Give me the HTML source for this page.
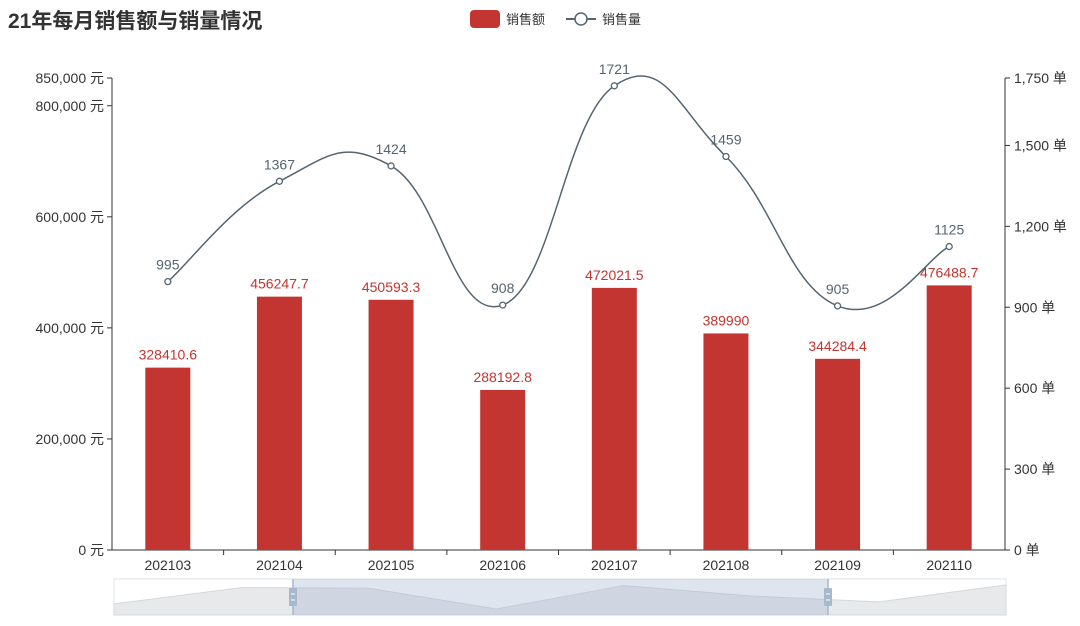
<!DOCTYPE html>
<html><head><meta charset="utf-8"><style>
body{margin:0;background:#fff;width:1080px;height:621px;overflow:hidden;font-family:"Liberation Sans","Noto Sans CJK SC",sans-serif}
</style></head><body>
<svg id="c" width="1080" height="621" xmlns="http://www.w3.org/2000/svg">
<text x="8" y="28" font-size="21" font-weight="bold" fill="#333" font-family="Liberation Sans,Noto Sans CJK SC,sans-serif">21年每月销售额与销量情况</text>
<g><rect x="470" y="10" width="30" height="18" rx="4" fill="#c23531"/><text x="506" y="24" font-size="13" fill="#333" font-family="Noto Sans CJK SC,sans-serif">销售额</text></g>
<g><line x1="566" y1="19" x2="596" y2="19" stroke="#546570" stroke-width="2"/><circle cx="581" cy="19" r="6" fill="#fff" stroke="#546570" stroke-width="1.5"/><text x="602" y="24" font-size="13" fill="#333" font-family="Noto Sans CJK SC,sans-serif">销售量</text></g>
<g id="axes"></g><g id="bars"></g><g id="line"></g><g id="dz"></g>
</svg>
<script>
const categories=["202103","202104","202105","202106","202107","202108","202109","202110"];
const salesAmount=[328410.6,456247.7,450593.3,288192.8,472021.5,389990,344284.4,476488.7];
const salesVolume=[995,1367,1424,908,1721,1459,905,1125];
const leftTicks=[0,200000,400000,600000,800000,850000];
const rightTicks=[0,300,600,900,1200,1500,1750];
const NS="http://www.w3.org/2000/svg";
const L=112,R=1005,B=550,T=78;
const yL=v=>B-(v/850000)*(B-T);
const yR=v=>B-(v/1750)*(B-T);
const bw=(R-L)/categories.length;
const xC=i=>L+bw*(i+0.5);
function mk(p,tag,a){const e=document.createElementNS(NS,tag);for(const k in a)e.setAttribute(k,a[k]);p.appendChild(e);return e;}
const ax=document.getElementById('axes');
let e=mk(ax,'line',{x1:L,y1:T,x2:L,y2:B,stroke:'#333'});


e=mk(ax,'line',{x1:R,y1:T,x2:R,y2:B,stroke:'#333'});


e=mk(ax,'line',{x1:L,y1:B,x2:R,y2:B,stroke:'#333'});


leftTicks.forEach(v=>{const y=yL(v);mk(ax,'line',{x1:L-5,y1:y,x2:L,y2:y,stroke:'#333'});
const t=mk(ax,'text',{x:L-8,y:y+5,'text-anchor':'end','font-size':14,fill:'#333'});t.textContent=v.toLocaleString('en-US')+' 元';

});
rightTicks.forEach(v=>{const y=yR(v);mk(ax,'line',{x1:R,y1:y,x2:R+5,y2:y,stroke:'#333'});
const t=mk(ax,'text',{x:R+9,y:y+5,'font-size':14,fill:'#333'});t.textContent=v.toLocaleString('en-US')+' 单';

});
categories.forEach((c,i)=>{const x=L+bw*i;if(i>0)mk(ax,'line',{x1:x,y1:B,x2:x,y2:B+5,stroke:'#333'});
const t=mk(ax,'text',{x:xC(i),y:B+20,'text-anchor':'middle','font-size':14,fill:'#333'});t.textContent=c;

});
const bg=document.getElementById('bars');
salesAmount.forEach((v,i)=>{const r=mk(bg,'rect',{x:xC(i)-22.5,y:yL(v),width:45,height:B-yL(v),fill:'#c23531'});


const t=mk(bg,'text',{x:xC(i),y:yL(v)-8,'text-anchor':'middle','font-size':14,fill:'#c23531'});t.textContent=v;

});
const lg=document.getElementById('line');
const pts=salesVolume.map((v,i)=>[xC(i),yR(v)]);
let d='M'+pts[0];
for(let i=0;i<pts.length-1;i++){const p0=pts[Math.max(0,i-1)],p1=pts[i],p2=pts[i+1],p3=pts[Math.min(pts.length-1,i+2)];const k=0.22;
const c1=[p1[0]+(p2[0]-p0[0])*k,p1[1]+(p2[1]-p0[1])*k],c2=[p2[0]-(p3[0]-p1[0])*k,p2[1]-(p3[1]-p1[1])*k];
d+=' C'+c1+' '+c2+' '+p2;}
e=mk(lg,'path',{d:d,fill:'none',stroke:'#546570','stroke-width':1.5});


pts.forEach((p,i)=>{const c=mk(lg,'circle',{cx:p[0],cy:p[1],r:3,fill:'#fff',stroke:'#546570','stroke-width':1.3});


const t=mk(lg,'text',{x:p[0],y:p[1]-12,'text-anchor':'middle','font-size':14,fill:'#546570'});t.textContent=salesVolume[i];

});
// data zoom
const dz=document.getElementById('dz');
const dx0=114,dx1=1006,dy0=579,dy1=615;
e=mk(dz,'rect',{x:dx0,y:dy0,width:dx1-dx0,height:dy1-dy0,fill:'none',stroke:'#dde1e6'});


const dmax=Math.max(...salesAmount),dmin=Math.min(...salesAmount);
const sx=i=>dx0+(dx1-dx0)*i/(salesAmount.length-1);
const sy=v=>dy1-6-(v-dmin)/(dmax-dmin)*24;
let sd='M'+dx0+','+dy1;salesAmount.forEach((v,i)=>sd+=' L'+sx(i)+','+sy(v));sd+=' L'+dx1+','+dy1+'Z';
e=mk(dz,'path',{d:sd,fill:'#e8e9ea',stroke:'#d5d8dc'});


e=mk(dz,'rect',{x:293,y:dy0,width:535,height:dy1-dy0,fill:'rgba(160,180,210,0.35)'});


[293,828].forEach(x=>{mk(dz,'line',{x1:x,y1:dy0,x2:x,y2:dy1,stroke:'#a7b7cc','stroke-width':1.5});
const h=mk(dz,'rect',{x:x-4,y:588,width:8,height:18,rx:1,fill:'#a7b7cc'});


mk(dz,'line',{x1:x-2,y1:594,x2:x+2,y2:594,stroke:'#fff'});mk(dz,'line',{x1:x-2,y1:600,x2:x+2,y2:600,stroke:'#fff'});});
</script>
</body></html>
